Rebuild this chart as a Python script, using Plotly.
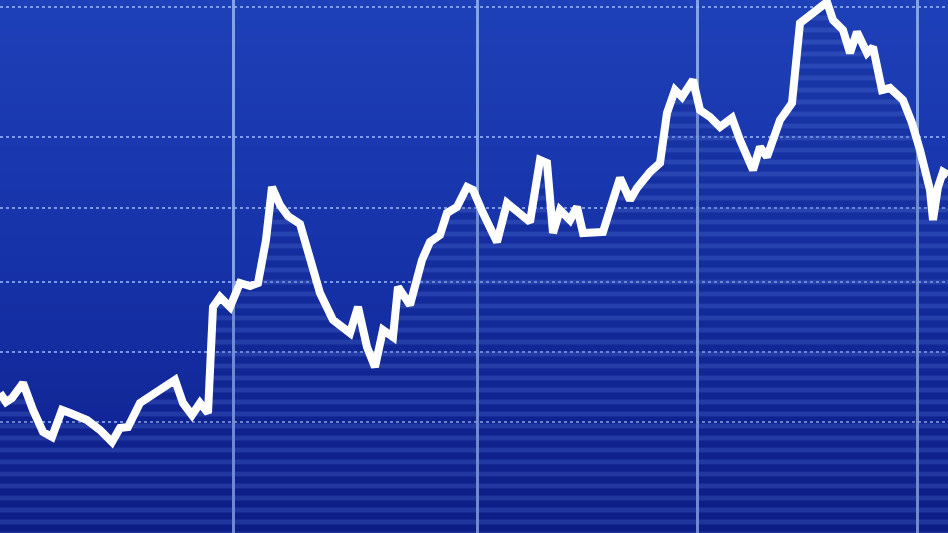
import base64
import struct
import zlib
import plotly.graph_objects as go

# Time index (trading sessions) and price level
session = [0, 6, 12, 23, 33, 43, 52, 62, 70, 87, 100, 112, 120, 128, 140, 147, 157, 167, 175, 183,
           192, 200, 208, 213, 220, 230, 240, 250, 258, 266, 272, 280, 288, 300, 310, 320, 333, 350,
           358, 367, 375, 383, 393, 398, 410, 422, 430, 440, 447, 457, 467, 473, 483, 497, 507, 520,
           530, 540, 547, 553, 560, 570, 577, 583, 593, 603, 613, 620, 630, 637, 650, 660, 667, 675,
           682, 693, 700, 710, 720, 732, 740, 753, 760, 767, 780, 792, 800, 813, 820, 827, 833, 843,
           850, 857, 867, 873, 882, 890, 903, 912, 920, 930, 933, 938, 943, 948]
price = [140, 131, 135, 150, 123, 101, 96, 123, 120, 113, 103, 91, 105, 106, 130, 135, 140, 148, 153, 130,
         118, 130, 120, 226, 236, 226, 250, 247, 250, 293, 346, 328, 317, 309, 273, 240, 213, 200,
         226, 186, 166, 203, 196, 246, 228, 273, 291, 298, 320, 326, 346, 343, 320, 291, 330, 320,
         311, 373, 370, 300, 323, 313, 326, 300, 300, 301, 333, 355, 333, 345, 361, 370, 420, 443,
         436, 453, 423, 416, 406, 415, 393, 363, 386, 376, 413, 430, 510, 521, 525, 531, 513, 503,
         480, 501, 480, 486, 443, 445, 433, 410, 383, 343, 313, 346, 361, 358]

# Grid positions
x_grid = [233, 477, 697, 917]
y_grid = [111, 181, 251, 325, 396, 526]

# Screen background gradient (top -> bottom), built as a tiny PNG
grad_top = (30, 64, 184)
grad_mid = (22, 50, 168)
grad_bot = (14, 32, 142)


def gradient_png(n=64):
    rows = b""
    for i in range(n):
        t = i / (n - 1)
        if t < 0.5:
            a, b, f = grad_top, grad_mid, t / 0.5
        else:
            a, b, f = grad_mid, grad_bot, (t - 0.5) / 0.5
        c = bytes(int(round(a[k] + (b[k] - a[k]) * f)) for k in range(3))
        rows += b"\x00" + c * 2

    def chunk(tag, data):
        return (struct.pack(">I", len(data)) + tag + data
                + struct.pack(">I", zlib.crc32(tag + data) & 0xffffffff))

    png = (b"\x89PNG\r\n\x1a\n"
           + chunk(b"IHDR", struct.pack(">IIBBBBB", 2, n, 8, 2, 0, 0, 0))
           + chunk(b"IDAT", zlib.compress(rows))
           + chunk(b"IEND", b""))
    return "data:image/png;base64," + base64.b64encode(png).decode()


fig = go.Figure()
fig.add_trace(go.Scatter(
    x=session, y=price,
    mode="lines",
    line=dict(color="white", width=8, shape="linear"),
    fill="tozeroy",
    fillcolor="rgba(5,15,90,0.15)",
    fillpattern=dict(shape="-", size=12, solidity=0.4,
                     fgcolor="rgba(100,140,235,0.42)",
                     bgcolor="rgba(5,15,90,0.15)"),
    hoverinfo="skip",
))

fig.update_layout(
    width=948, height=533,
    margin=dict(l=0, r=0, t=0, b=0),
    paper_bgcolor="#1633a8",
    plot_bgcolor="rgba(0,0,0,0)",
    showlegend=False,
    images=[dict(source=gradient_png(), xref="paper", yref="paper",
                 x=0, y=1, sizex=1, sizey=1, sizing="stretch",
                 xanchor="left", yanchor="top", layer="below")],
    xaxis=dict(range=[0, 948], tickvals=x_grid, showticklabels=False,
               showgrid=True, gridcolor="rgba(150,180,245,0.85)", gridwidth=3,
               zeroline=False, showline=False, ticks=""),
    yaxis=dict(range=[0, 533], tickvals=y_grid, showticklabels=False,
               showgrid=True, gridcolor="rgba(150,180,245,0.8)", gridwidth=2,
               griddash="dot", zeroline=False, showline=False, ticks=""),
)

fig.write_html("out.html",
               config={"displayModeBar": False},
               post_script="document.body.style.margin='0';"
                           "document.body.style.overflow='hidden';")
